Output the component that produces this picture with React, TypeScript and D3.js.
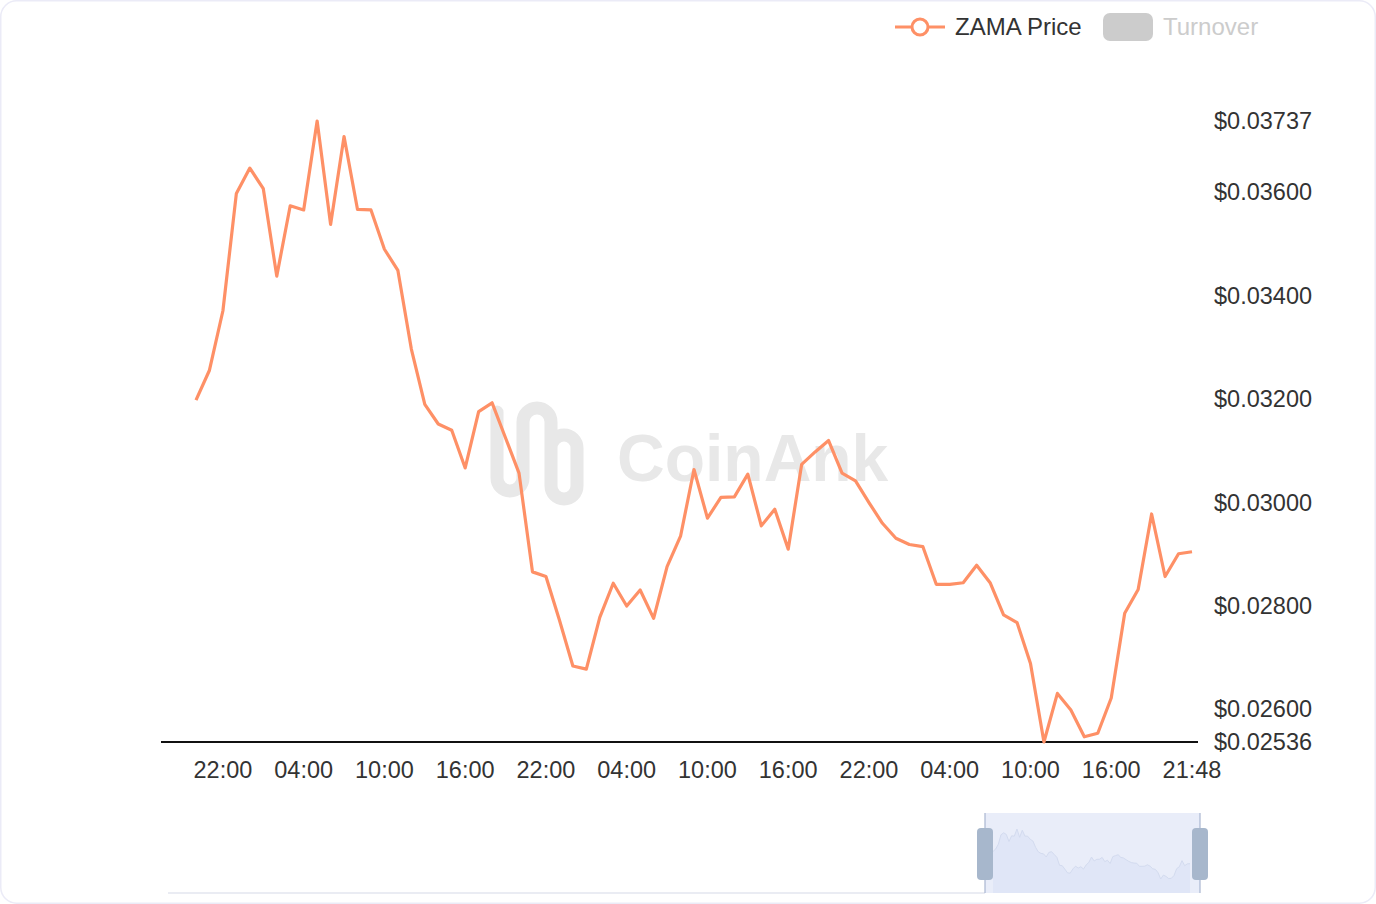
import React from "react";
import * as d3 from "d3";

const categories: string[] = [
  "20:00","21:00","22:00","23:00","00:00","01:00","02:00","03:00","04:00","05:00",
  "06:00","07:00","08:00","09:00","10:00","11:00","12:00","13:00","14:00","15:00",
  "16:00","17:00","18:00","19:00","20:00","21:00","22:00","23:00","00:00","01:00",
  "02:00","03:00","04:00","05:00","06:00","07:00","08:00","09:00","10:00","11:00",
  "12:00","13:00","14:00","15:00","16:00","17:00","18:00","19:00","20:00","21:00",
  "22:00","23:00","00:00","01:00","02:00","03:00","04:00","05:00","06:00","07:00",
  "08:00","09:00","10:00","11:00","12:00","13:00","14:00","15:00","16:00","17:00",
  "18:00","19:00","20:00","21:00","21:48",
];

const prices: number[] = [
  0.03197, 0.03255, 0.0337, 0.03597, 0.03646, 0.03606, 0.03437, 0.03573, 0.03565, 0.03737,
  0.03537, 0.03707, 0.03566, 0.03565, 0.03489, 0.03448, 0.03296, 0.03189, 0.03151, 0.03139,
  0.03066, 0.03175, 0.03192, 0.03124, 0.03056, 0.02865, 0.02856, 0.02772, 0.02683, 0.02677,
  0.02777, 0.02843, 0.02799, 0.0283, 0.02775, 0.02875, 0.02934, 0.03063, 0.02969, 0.03009,
  0.0301, 0.03054, 0.02954, 0.02986, 0.02909, 0.03073, 0.03097, 0.03119, 0.03056, 0.03041,
  0.02999, 0.02959, 0.0293, 0.02918, 0.02914, 0.02841, 0.02841, 0.02844, 0.02878, 0.02844,
  0.02782, 0.02767, 0.02688, 0.02536, 0.0263, 0.02598, 0.02546, 0.02553, 0.02621, 0.02785,
  0.02831, 0.02977, 0.02856, 0.029, 0.02904,
];

const yTicks: number[] = [0.026, 0.028, 0.03, 0.032, 0.034, 0.036];
const legendItems: string[] = ["ZAMA Price", "Turnover"];

const W = 1376;
const H = 904;
const LINE = "#fe9066";
const FONT = "Helvetica, 'Liberation Sans', Arial, sans-serif";

export default function App() {
  const minV = d3.min(prices) as number;
  const maxV = d3.max(prices) as number;

  const x = d3.scalePoint<string>().domain(categories.map((_, i) => String(i))).range([196, 1192]);
  const xi = (i: number) => x(String(i)) as number;
  const y = d3.scaleLinear().domain([minV, maxV]).range([742, 121]);

  const line = d3
    .line<number>()
    .x((_, i) => xi(i))
    .y((d) => y(d));

  const allTicks = [minV, ...yTicks, maxV];
  const fmt = (v: number) => "$" + v.toFixed(5);

  const labelIdx = categories.map((_, i) => i).filter((i) => (i - 2) % 6 === 0 && i >= 2);

  // slider / data shadow
  const sx = d3.scaleLinear().domain([0, prices.length - 1]).range([993, 1190]);
  const sy = d3.scaleLinear().domain([minV, maxV]).range([879, 829]);
  const shadowArea = d3
    .area<number>()
    .x((_, i) => sx(i))
    .y0(893)
    .y1((d) => sy(d));
  const shadowLine = d3
    .line<number>()
    .x((_, i) => sx(i))
    .y((d) => sy(d));

  return (
    <svg
      width={W}
      height={H}
      style={{ position: "absolute", left: 0, top: 0, display: "block" }}
      fontFamily={FONT}
    >
      <rect x={0.75} y={0.75} width={W - 1.5} height={H - 1.5} rx={16} fill="#fff" stroke="#ebebf7" strokeWidth={1.5} />

      {/* watermark */}
      <g>
        <path
          d="M 497 412 V 478 A 13 13 0 0 0 523 478 V 422 A 14 14 0 0 1 551 422 V 486 A 13 13 0 0 0 577 486 V 448 A 13 13 0 0 0 551 448"
          fill="none"
          stroke="#e8e8e8"
          strokeWidth={13}
          strokeLinecap="round"
        />
        <text x={617} y={481} fontSize={66} fontWeight="bold" fill="#e8e8e8">
          CoinAnk
        </text>
      </g>

      {/* legend */}
      <g>
        <line x1={895} x2={945} y1={27} y2={27} stroke={LINE} strokeWidth={3} />
        <circle cx={920} cy={27} r={8} fill="#fff" stroke={LINE} strokeWidth={3} />
        <text x={955} y={35} fontSize={24} fill="#333">
          {legendItems[0]}
        </text>
        <rect x={1103} y={13} width={50} height={28} rx={7} fill="#cccccc" />
        <text x={1163} y={35} fontSize={24} fill="#cccccc">
          {legendItems[1]}
        </text>
      </g>

      {/* y axis labels */}
      {allTicks.map((t, i) => (
        <text key={i} x={1214} y={y(t)} dy="0.36em" fontSize={23.5} fill="#333">
          {fmt(t)}
        </text>
      ))}

      {/* x axis */}
      <line x1={161} x2={1198} y1={742} y2={742} stroke="#111" strokeWidth={2} />
      {labelIdx.map((i) => (
        <text key={i} x={xi(i)} y={778} textAnchor="middle" fontSize={23.5} fill="#333">
          {categories[i]}
        </text>
      ))}

      {/* price line */}
      <path d={line(prices) || ""} fill="none" stroke={LINE} strokeWidth={3.2} strokeLinejoin="round" />

      {/* data zoom slider */}
      <line x1={168} x2={985} y1={893} y2={893} stroke="#e3e6ef" strokeWidth={1.5} />
      <rect x={985} y={813} width={215} height={80} fill="#e9edf9" />
      <path d={shadowArea(prices) || ""} fill="#e0e6f7" />
      <path d={shadowLine(prices) || ""} fill="none" stroke="#d3dbef" strokeWidth={1} />
      <line x1={985} x2={985} y1={813} y2={893} stroke="#a9b6d0" strokeWidth={1.2} />
      <line x1={1200} x2={1200} y1={813} y2={893} stroke="#a9b6d0" strokeWidth={1.2} />
      <rect x={977} y={828} width={16} height={52} rx={4} fill="#a7b7cc" />
      <rect x={1192} y={828} width={16} height={52} rx={4} fill="#a7b7cc" />
    </svg>
  );
}
